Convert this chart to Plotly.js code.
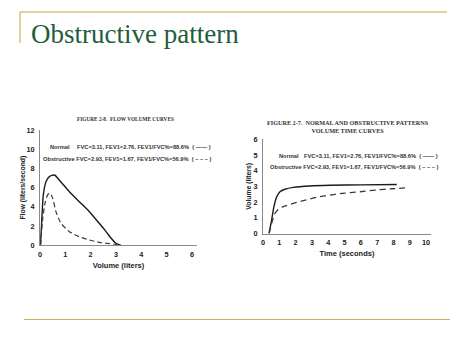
<!DOCTYPE html>
<html>
<head>
<meta charset="utf-8">
<script src="https://cdn.plot.ly/plotly-3.0.1.min.js"></script>
<style>
  html, body { margin: 0; padding: 0; background: #ffffff; }
  #chart { width: 474px; height: 355px; }
</style>
</head>
<body>
<div id="chart"></div>
<script>
// ---- Data ----
// Figure 2-8: flow-volume curves
var fvNormalVolume = [0.02, 0.08, 0.13, 0.24, 0.37, 0.57, 0.76, 1.16, 1.55, 1.95, 2.34, 2.61, 2.81, 3.00, 3.20];
var fvNormalFlow   = [0.00, 3.15, 5.24, 6.63, 7.15, 7.32, 6.80, 5.58, 4.54, 3.50, 2.29, 1.42, 0.73, 0.21, 0.00];
var fvObstrVolume  = [0.02, 0.11, 0.21, 0.30, 0.40, 0.50, 0.63, 0.83, 1.16, 1.55, 1.95, 2.34, 2.74, 3.00, 3.13];
var fvObstrFlow    = [0.00, 2.81, 4.54, 5.24, 5.42, 4.90, 3.50, 2.29, 1.42, 0.90, 0.55, 0.31, 0.17, 0.10, 0.00];

// Figure 2-7: volume-time curves
var vtNormalTime   = [0.37, 0.53, 0.67, 0.84, 1.04, 1.35, 1.86, 2.88, 4.11, 6.00, 8.20];
var vtNormalVolume = [0.00, 0.86, 1.71, 2.34, 2.66, 2.82, 2.94, 3.03, 3.07, 3.10, 3.12];
var vtObstrTime    = [0.37, 0.53, 0.74, 0.94, 1.25, 1.86, 2.47, 3.29, 4.11, 4.72, 5.95, 6.93, 7.93, 8.71];
var vtObstrVolume  = [0.00, 0.65, 1.29, 1.54, 1.71, 1.92, 2.09, 2.31, 2.45, 2.54, 2.66, 2.77, 2.85, 2.90];

// Texts
var slideTitle = "Obstructive pattern";
var fvTitle = "FIGURE 2-8.  FLOW VOLUME CURVES";
var vtTitle = "FIGURE 2-7.  NORMAL AND OBSTRUCTIVE PATTERNS<br>VOLUME TIME CURVES";
var normalLabel = "Normal";
var normalStats = "FVC=3.11, FEV1=2.76, FEV1/FVC%=88.6%  ( —— )";
var obstrLine   = "Obstructive FVC=2.93, FEV1=1.67, FEV1/FVC%=56.9%  ( – – – )";

// ---- Helpers: pixel -> paper coordinates ----
var W = 474, H = 355;
function px(x) { return x / W; }
function py(y) { return 1 - y / H; }

var tickFont = {family: "Liberation Sans, Arial, sans-serif", size: 7.3, color: "#222", weight: "bold"};
var lineCol = "#8a8a8a";

function xAxis(range, domain, anchor, title, standoff) {
  return {
    domain: domain, range: range, anchor: anchor, dtick: 1,
    showgrid: false, zeroline: false, showline: true, linecolor: lineCol, linewidth: 1,
    ticks: "", tickfont: tickFont, ticklabelstandoff: 2, automargin: false, fixedrange: true,
    title: {text: title, font: {family: "Liberation Sans, Arial, sans-serif", size: 7.5, color: "#222", weight: "bold"}, standoff: standoff}
  };
}
function yAxis(range, domain, anchor, dtick, title, standoff) {
  return {
    domain: domain, range: range, anchor: anchor, dtick: dtick,
    showgrid: false, zeroline: false, showline: true, linecolor: lineCol, linewidth: 1,
    ticks: "", tickfont: tickFont, ticklabelstandoff: 3, automargin: false, fixedrange: true,
    title: {text: title, font: {family: "Liberation Sans, Arial, sans-serif", size: 6.8, color: "#222", weight: "bold"}, standoff: standoff}
  };
}

var traces = [
  {x: fvNormalVolume, y: fvNormalFlow, xaxis: "x", yaxis: "y", mode: "lines",
   line: {color: "#1a1a1a", width: 1.4, shape: "spline", smoothing: 0.6}, name: "Normal"},
  {x: fvObstrVolume, y: fvObstrFlow, xaxis: "x", yaxis: "y", mode: "lines",
   line: {color: "#3a3a3a", width: 1.2, dash: "5px,3px", shape: "spline", smoothing: 0.6}, name: "Obstructive"},
  {x: vtNormalTime, y: vtNormalVolume, xaxis: "x2", yaxis: "y2", mode: "lines",
   line: {color: "#1a1a1a", width: 1.4, shape: "spline", smoothing: 0.6}, name: "Normal"},
  {x: vtObstrTime, y: vtObstrVolume, xaxis: "x2", yaxis: "y2", mode: "lines",
   line: {color: "#3a3a3a", width: 1.3, dash: "6px,4px", shape: "spline", smoothing: 0.6}, name: "Obstructive"}
];

var legFont = {family: "Liberation Sans, Arial, sans-serif", size: 5.7, color: "#333", weight: "bold"};

var annotations = [
  {text: slideTitle, xref: "paper", yref: "paper", x: px(29), y: py(34), xanchor: "left", yanchor: "middle",
   showarrow: false, font: {family: "Liberation Serif, Times New Roman, serif", size: 27, color: "#1f5e3b"}},
  {text: fvTitle, xref: "paper", yref: "paper", x: px(126), y: py(118.5), xanchor: "center", yanchor: "middle",
   showarrow: false, font: {family: "Liberation Serif, serif", size: 5.3, color: "#333", weight: "bold"}},
  {text: vtTitle, xref: "paper", yref: "paper", x: px(348), y: py(126.3), xanchor: "center", yanchor: "middle",
   showarrow: false, font: {family: "Liberation Serif, serif", size: 6.2, color: "#333", weight: "bold"}},
  {text: normalLabel, xref: "paper", yref: "paper", x: px(48), y: py(147.3), xanchor: "left", yanchor: "middle", showarrow: false, font: legFont},
  {text: normalStats, xref: "paper", yref: "paper", x: px(213), y: py(147.3), xanchor: "right", yanchor: "middle", showarrow: false, font: legFont},
  {text: obstrLine, xref: "paper", yref: "paper", x: px(213), y: py(159), xanchor: "right", yanchor: "middle", showarrow: false, font: legFont},
  {text: normalLabel, xref: "paper", yref: "paper", x: px(277), y: py(156), xanchor: "left", yanchor: "middle", showarrow: false, font: legFont},
  {text: normalStats, xref: "paper", yref: "paper", x: px(440), y: py(156), xanchor: "right", yanchor: "middle", showarrow: false, font: legFont},
  {text: obstrLine, xref: "paper", yref: "paper", x: px(440), y: py(167.3), xanchor: "right", yanchor: "middle", showarrow: false, font: legFont}
];

var shapes = [
  {type: "line", xref: "paper", yref: "paper", x0: px(20), x1: px(20), y0: py(12), y1: py(43), line: {color: "#d8c27e", width: 1.5}},
  {type: "line", xref: "paper", yref: "paper", x0: px(20), x1: px(447), y0: py(12), y1: py(12), line: {color: "#d8c27e", width: 1.5}},
  {type: "line", xref: "paper", yref: "paper", x0: px(24), x1: px(450), y0: py(319.5), y1: py(319.5), line: {color: "#c9b160", width: 1.2}}
];

var layout = {
  width: W, height: H,
  margin: {l: 0, r: 0, t: 0, b: 0, pad: 0},
  paper_bgcolor: "#ffffff", plot_bgcolor: "rgba(0,0,0,0)",
  showlegend: false, hovermode: false,
  xaxis: xAxis([0, 6.2], [px(40), px(197)], "y", "Volume (liters)", 4),
  yaxis: yAxis([0, 12], [py(245.3), py(130)], "x", 2, "Flow (liters/second)", 0),
  xaxis2: xAxis([0, 10.3], [px(263), px(431)], "y2", "Time (seconds)", 4),
  yaxis2: yAxis([0, 6], [py(233.5), py(139.3)], "x2", 1, "Volume (liters)", 0),
  annotations: annotations,
  shapes: shapes
};

Plotly.newPlot("chart", traces, layout, {staticPlot: true, displayModeBar: false});
</script>
</body>
</html>
